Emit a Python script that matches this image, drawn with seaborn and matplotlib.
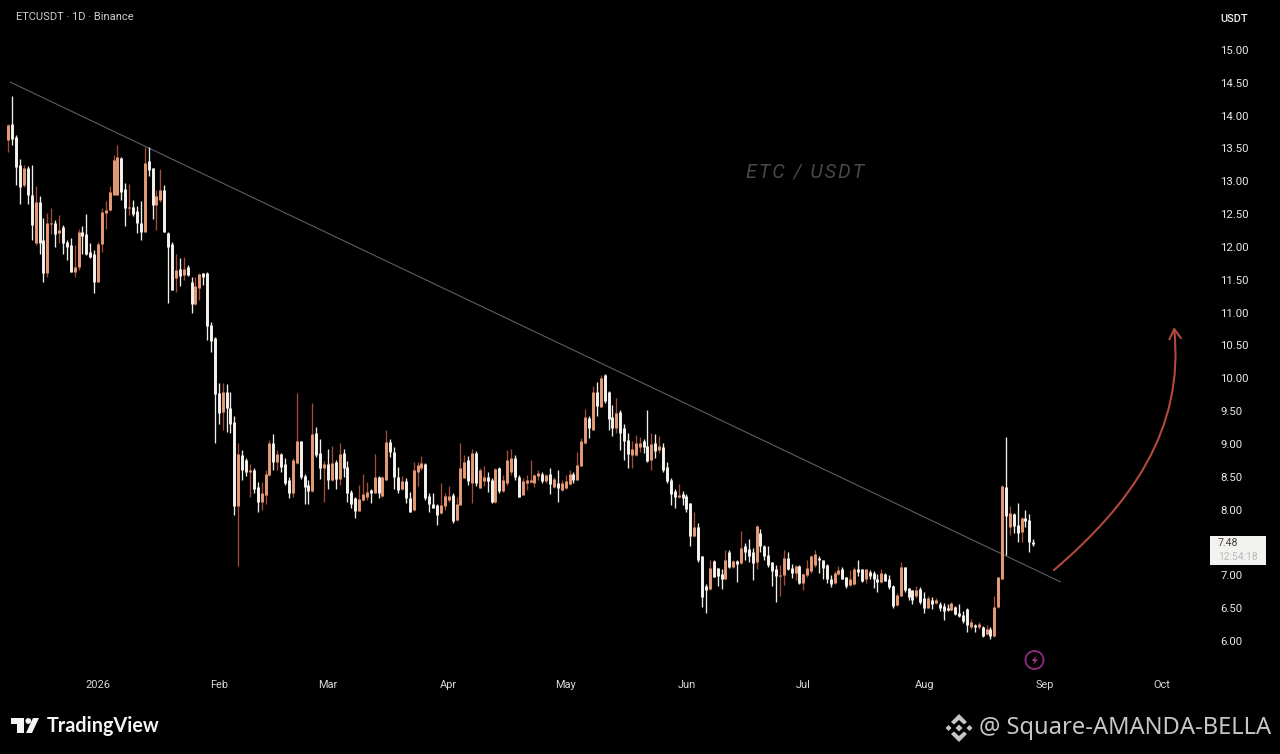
import matplotlib
matplotlib.use("Agg")
import matplotlib.pyplot as plt
import matplotlib.dates as mdates
from matplotlib.patches import Polygon, Ellipse, FancyArrowPatch, Rectangle
from matplotlib.path import Path
import numpy as np
import pandas as pd
import seaborn as sns

first_day = "2025-12-09"
opens = [13.63,13.88,13.68,13.25,12.94,13.20,12.79,12.06,12.69,12.10,
11.61,12.35,12.36,12.21,12.31,12.07,12.03,11.62,11.70,12.23,
12.2,11.93,11.9,11.47,12.05,12.52,12.56,12.79,12.79,13.36,
12.89,12.6,12.61,12.55,12.37,12.23,13.31,13.2,12.64,12.72,
12.87,12.22,12.04,11.53,11.66,11.57,11.7,11.47,11.13,11.37,
11.6,11.6,10.81,10.61,9.77,9.49,9.79,9.55,9.34,8.05,
8.83,8.76,8.57,8.61,8.34,8.12,8.22,8.53,9.01,8.73,
8.84,8.7,8.45,8.25,8.71,9.04,8.51,8.37,8.29,9.17,
8.86,8.64,8.69,8.45,8.73,8.47,8.86,8.65,8.27,8.17,
7.98,8.15,8.2,8.3,8.26,8.49,8.21,8.45,9.03,8.88,
8.5,8.32,8.43,8.17,8.0,8.58,8.63,8.7,8.21,8.09,
8.07,7.95,8.06,8.15,8.22,7.84,8.07,8.48,8.76,8.4,
8.87,8.33,8.43,8.5,8.45,8.11,8.63,8.29,8.4,8.58,
8.78,8.5,8.22,8.41,8.42,8.41,8.52,8.55,8.43,8.54,
8.35,8.41,8.3,8.33,8.39,8.55,8.45,8.67,9.01,9.39,
9.22,9.79,9.57,10.05,9.79,9.41,9.24,9.49,9.24,9.06,
8.83,8.83,8.95,9.04,8.97,8.76,9.02,8.91,8.96,8.65,
8.45,8.29,8.19,8.24,8.21,8.1,7.6,7.74,7.29,6.83,
6.79,7.22,7.11,7.02,6.95,7.36,7.13,7.22,7.19,7.45,
7.4,7.35,7.21,7.64,7.45,7.31,7.21,7.09,6.99,7.01,
7.26,7.11,7.03,7.14,6.88,7.0,7.06,7.16,7.27,7.24,
7.16,6.95,6.89,7.02,7.09,6.97,6.85,6.87,7.1,7.09,
6.95,7.05,7.03,6.95,6.9,7.02,6.95,6.84,6.55,6.69,
7.12,6.8,6.77,6.68,6.79,6.66,6.51,6.63,6.58,6.57,
6.53,6.51,6.47,6.52,6.43,6.39,6.48,6.21,6.24,6.21,
6.22,6.1,6.19,6.07,6.52,6.95,8.35,7.73,7.94,7.76,
7.66,7.88,7.84,7.5]
highs = [13.88,14.30,13.70,13.34,13.25,13.23,13.25,12.93,12.77,12.44,
12.52,12.60,12.41,12.49,12.33,12.10,12.13,12.03,12.28,12.32,
12.5,12.06,11.95,12.08,12.6,12.7,12.93,13.4,13.55,13.37,
12.97,12.96,12.71,12.62,12.70,13.52,13.52,13.2,12.87,13.18,
12.94,12.23,12.08,11.89,11.83,11.85,11.72,11.54,11.55,11.61,
11.61,11.62,10.86,10.63,9.93,9.93,9.92,9.79,9.42,9.01,
8.91,8.79,8.7,8.63,8.42,8.42,8.6,9.06,9.15,8.91,
8.86,8.78,8.5,8.78,9.78,9.05,8.54,8.45,9.63,9.26,
9.08,8.74,8.92,8.97,8.75,9.01,8.93,8.74,8.3,8.2,
8.37,8.54,8.42,8.32,8.84,8.52,8.52,9.22,9.08,8.96,
8.65,8.51,8.48,8.27,8.73,8.72,8.81,8.71,8.25,8.25,
8.09,8.41,8.25,8.36,8.26,8.2,9.01,8.83,8.81,8.93,
8.9,8.63,8.66,8.58,8.48,8.63,8.65,8.53,8.91,8.93,
8.83,8.53,8.48,8.53,8.76,8.55,8.6,8.58,8.54,8.64,
8.49,8.6,8.45,8.53,8.6,8.58,8.88,9.09,9.53,9.42,
9.88,9.95,10.05,10.07,9.8,9.59,9.7,9.52,9.31,9.17,
9.04,9.14,9.1,9.07,9.51,9.17,9.15,9.12,9.01,8.73,
8.48,8.31,8.39,8.29,8.24,8.1,7.96,7.79,7.3,6.87,
7.23,7.23,7.11,7.09,7.39,7.38,7.23,7.23,7.68,7.49,
7.55,7.41,7.77,7.7,7.46,7.44,7.21,7.16,7.16,7.39,
7.35,7.18,7.16,7.16,7.03,7.24,7.31,7.38,7.29,7.24,
7.18,7.0,7.06,7.14,7.13,6.98,7.08,7.12,7.23,7.1,
7.1,7.08,7.06,7.02,7.09,7.03,7.0,6.85,6.73,7.21,
7.13,6.8,6.78,6.84,6.82,6.74,6.69,6.67,6.65,6.6,
6.58,6.56,6.6,6.53,6.56,6.45,6.5,6.33,6.26,6.29,
6.23,6.24,6.21,6.69,6.98,8.37,9.11,8.05,7.95,8.1,
7.89,7.99,7.93,7.56]
lows = [13.45,13.55,12.94,12.66,12.92,12.66,12.11,12.03,11.90,11.46,
11.55,12.2,12.0,12.06,11.89,11.8,11.62,11.55,11.65,11.9,
11.88,11.83,11.3,11.46,11.93,12.27,12.55,12.79,12.79,12.71,
12.32,12.49,12.47,12.21,12.10,12.23,13.08,12.42,12.26,12.69,
12.23,11.14,11.34,11.32,11.4,11.49,11.56,11.0,11.12,11.2,
11.42,10.58,10.4,9.02,9.3,9.21,9.18,9.16,7.92,7.14,
8.45,8.52,8.2,8.26,7.97,7.99,8.09,8.51,8.6,8.6,
8.58,8.37,8.17,8.2,8.7,8.46,8.08,8.08,8.27,8.8,
8.47,8.12,8.31,8.44,8.32,8.37,8.5,8.12,8.02,7.87,
7.98,8.13,8.15,8.1,8.25,8.17,8.2,8.45,8.8,8.32,
8.25,8.3,8.1,7.96,7.98,8.36,8.6,8.15,7.97,8.02,
7.77,7.93,8.0,8.12,7.8,7.82,8.07,8.48,8.38,8.1,
8.36,8.33,8.36,8.27,8.1,8.1,8.26,8.27,8.38,8.53,
8.45,8.19,8.22,8.3,8.4,8.35,8.45,8.4,8.41,8.24,
8.33,8.12,8.28,8.31,8.38,8.41,8.45,8.66,9.0,9.09,
9.22,9.43,9.56,9.63,9.22,9.12,9.16,8.91,8.76,8.63,
8.63,8.81,8.88,8.86,8.72,8.6,8.78,8.86,8.58,8.4,
8.07,8.02,8.18,8.07,7.96,7.45,7.59,7.21,6.52,6.42,
6.78,6.97,6.84,6.79,6.94,7.11,7.11,6.9,7.17,7.23,
7.21,6.93,7.09,7.36,7.23,7.13,6.84,6.6,6.69,6.85,
7.08,6.96,6.93,6.87,6.78,6.98,7.03,7.13,7.03,6.95,
6.89,6.82,6.87,7.0,6.94,6.8,6.83,6.85,6.99,6.9,
6.88,6.95,6.8,6.74,6.89,6.92,6.79,6.51,6.53,6.69,
6.75,6.63,6.57,6.66,6.57,6.42,6.5,6.48,6.57,6.45,
6.32,6.45,6.46,6.4,6.37,6.28,6.14,6.19,6.13,6.19,
6.06,6.09,6.03,6.06,6.51,6.94,7.31,7.61,7.64,7.51,
7.5,7.74,7.36,7.44]
closes = [13.86,13.65,13.22,12.92,13.20,12.79,12.33,12.69,12.06,11.61,
12.36,12.37,12.2,12.26,12.06,12.0,11.62,11.7,12.23,12.17,
11.9,11.85,11.46,12.04,12.54,12.57,12.83,13.32,13.37,12.84,
12.6,12.61,12.5,12.36,12.23,13.28,13.17,12.64,12.77,12.87,
12.23,12.0,11.34,11.65,11.56,11.66,11.57,11.13,11.4,11.59,
11.55,10.79,10.57,9.76,9.47,9.79,9.55,9.31,8.05,8.84,
8.6,8.58,8.6,8.32,8.12,8.25,8.54,9.01,8.73,8.84,
8.65,8.4,8.25,8.75,9.05,8.5,8.35,8.29,9.15,8.83,
8.63,8.69,8.45,8.71,8.47,8.84,8.63,8.25,8.09,7.98,
8.16,8.24,8.27,8.25,8.49,8.25,8.49,9.03,8.88,8.5,
8.3,8.43,8.17,7.97,8.6,8.68,8.71,8.17,8.09,8.03,
7.92,8.07,8.21,8.21,7.82,8.09,8.63,8.73,8.43,8.87,
8.4,8.6,8.5,8.43,8.11,8.62,8.28,8.45,8.76,8.78,
8.5,8.2,8.43,8.45,8.45,8.53,8.56,8.43,8.53,8.39,
8.46,8.33,8.41,8.44,8.54,8.45,8.68,9.04,9.41,9.24,
9.79,9.58,10.0,9.65,9.38,9.24,9.47,9.17,9.04,8.85,
8.93,9.01,9.01,8.95,8.74,9.0,8.9,8.97,8.6,8.43,
8.24,8.2,8.22,8.17,8.01,7.6,7.73,7.23,6.67,6.78,
7.11,6.98,6.99,6.94,7.23,7.13,7.22,7.17,7.41,7.35,
7.29,7.19,7.75,7.44,7.29,7.16,7.06,6.99,7.01,7.26,
7.09,7.03,7.14,6.88,7.02,7.11,7.29,7.33,7.24,7.11,
6.95,6.87,7.04,7.08,6.95,6.83,6.94,7.1,7.05,6.92,
7.09,6.99,6.94,6.9,7.03,6.92,6.82,6.53,6.7,7.12,
6.78,6.67,6.63,6.77,6.6,6.5,6.65,6.57,6.63,6.5,
6.45,6.47,6.58,6.41,6.38,6.31,6.24,6.29,6.21,6.26,
6.08,6.19,6.07,6.52,6.97,8.36,7.9,7.95,7.75,7.65,
7.88,7.82,7.5,7.48]

trend_dates = ["2025-12-09 12:00", "2026-09-05 00:00"]
trend_prices = [14.51, 6.90]
month_ticks = ["2026-01-01","2026-02-01","2026-03-01","2026-04-01","2026-05-01",
               "2026-06-01","2026-07-01","2026-08-01","2026-09-01","2026-10-01"]
month_labels = ["2026","Feb","Mar","Apr","May","Jun","Jul","Aug","Sep","Oct"]
price_ticks = [6.0,6.5,7.0,8.0,8.5,9.0,9.5,10.0,10.5,11.0,11.5,12.0,12.5,13.0,13.5,14.0,14.5,15.0]
arrow_days = [245.3, 264.8, 278.9, 276.1]
arrow_prices = [7.08, 8.07, 9.21, 10.78]

UP_BODY, UP_WICK = "#e79c75", "#a04e38"
DOWN_BODY, DOWN_WICK = "#f6f3ef", "#f0eeea"

sns.set_theme(style="dark", rc={"axes.facecolor": "black", "figure.facecolor": "black",
                                "axes.grid": False})
plt.rcParams["font.family"] = ["Roboto", "DejaVu Sans"]

fig = plt.figure(figsize=(12.8, 7.54), dpi=100)
ax = fig.add_axes([0, 0, 1, 1])

dates = pd.date_range(first_day, periods=len(opens), freq="D")
candles = pd.DataFrame({"date": dates, "open": opens, "high": highs, "low": lows, "close": closes})
candles["candle"] = np.arange(len(candles))
candles["direction"] = np.where(candles["close"] >= candles["open"], "up", "down")

wicks = candles.melt(id_vars=["date", "candle", "direction"], value_vars=["low", "high"], value_name="price")
bodies = candles.melt(id_vars=["date", "candle", "direction"], value_vars=["open", "close"], value_name="price")

sns.lineplot(data=pd.DataFrame({"date": pd.to_datetime(trend_dates), "price": trend_prices}),
             x="date", y="price", color="#5c5d68", linewidth=0.8, ax=ax, legend=False)
sns.lineplot(data=wicks, x="date", y="price", units="candle", estimator=None, hue="direction",
             palette={"up": UP_WICK, "down": DOWN_WICK}, linewidth=0.95, sort=False, ax=ax,
             legend=False, solid_capstyle="butt")
sns.lineplot(data=bodies, x="date", y="price", units="candle", estimator=None, hue="direction",
             palette={"up": UP_BODY, "down": DOWN_BODY}, linewidth=2.1, sort=False, ax=ax,
             legend=False, solid_capstyle="butt")

base = mdates.date2num(pd.Timestamp("2026-01-01"))
ax.set_xlim(base - 98 / 3.897, base + (1280 - 98) / 3.897)
ax.set_ylim(6 - 113 / 65.67, 6 + 641 / 65.67)

ax.set_xticks(pd.to_datetime(month_ticks))
ax.set_xticklabels(month_labels)
ax.set_yticks(price_ticks)
ax.set_yticklabels([f"{p:.2f}" for p in price_ticks])
ax.yaxis.tick_right()
ax.tick_params(axis="x", length=0, pad=-53.5, labelsize=7.9, colors="#d8d8d8")
ax.tick_params(axis="y", length=0, pad=-43, labelsize=8.2, colors="#e8e8e8")
ax.set_xlabel("")
ax.set_ylabel("")
for s in ax.spines.values():
    s.set_visible(False)


def px(x, y):
    return (x / 1280, 1 - y / 754)


def poly(points, color):
    fig.add_artist(Polygon([px(*p) for p in points], closed=True, facecolor=color,
                           edgecolor="none", transform=fig.transFigure))


def disc(x, y, r, face, edge="none", lw=0):
    fig.add_artist(Ellipse(px(x, y), 2 * r / 1280, 2 * r / 754, facecolor=face, edgecolor=edge,
                           linewidth=lw, transform=fig.transFigure))


# trend arrow
arrow_path = Path([(base + d, p) for d, p in zip(arrow_days, arrow_prices)],
                  [Path.MOVETO, Path.CURVE4, Path.CURVE4, Path.CURVE4])
ax.add_patch(FancyArrowPatch(path=arrow_path, arrowstyle="->,head_length=7,head_width=4.2",
                             color="#b3493d", linewidth=1.5, mutation_scale=1))

# texts
fig.text(*px(16, 16.5), "ETCUSDT · 1D · Binance", color="#cfcfcf", fontsize=8.0, va="center", ha="left")
fig.text(*px(1220, 18.5), "USDT", color="#f0f0f0", fontsize=7.9, va="center", ha="left", fontweight="medium")
hair = "\u200a"
fig.text(*px(805, 172), hair.join("ETC / USDT"), color="#47474d", fontsize=14.2, style="italic",
         va="center", ha="center")

# price tag
fig.add_artist(Rectangle(px(1210, 565), 56 / 1280, 29 / 754, facecolor="#f2f2f0", edgecolor="none",
                         transform=fig.transFigure))
fig.text(*px(1218, 542.5), "7.48", color="#4a4038", fontsize=7.6, va="center", ha="left")
fig.text(*px(1218, 557), "12:54:18", color="#b9b9b9", fontsize=7.4, va="center", ha="left")

# lightning badge
disc(1034.5, 660, 9, "none", "#8b2a78", 1.4)
poly([(1036.5, 655.5), (1031.5, 661), (1034.5, 661), (1033, 665), (1038, 659.5), (1035, 659.5)], "#a8327f")

# TradingView logo
LOGO = "#f4f4f4"
poly([(11, 718), (24, 718), (24, 733), (17, 733), (17, 724), (11, 724)], LOGO)
poly([(39, 718), (33, 718), (26, 733), (32, 733)], LOGO)
disc(28.3, 721, 2.9, LOGO)
fig.text(*px(47, 726), "TradingView", color=LOGO, fontsize=14.2, fontweight="bold",
         family=["Lato", "DejaVu Sans"], va="center", ha="left")

# Binance logo and credit
GRAY = "#c6c6c6"
cx, cy = 959, 728
poly([(cx, cy - 3.5), (cx + 3.5, cy), (cx, cy + 3.5), (cx - 3.5, cy)], GRAY)
poly([(cx - 13.5, cy), (cx - 10.5, cy - 3), (cx - 7.5, cy), (cx - 10.5, cy + 3)], GRAY)
poly([(cx + 13.5, cy), (cx + 10.5, cy - 3), (cx + 7.5, cy), (cx + 10.5, cy + 3)], GRAY)
poly([(cx, cy - 14), (cx + 8, cy - 6), (cx + 5, cy - 3.5), (cx, cy - 8), (cx - 5, cy - 3.5), (cx - 8, cy - 6)], GRAY)
poly([(cx, cy + 14), (cx + 8, cy + 6), (cx + 5, cy + 3.5), (cx, cy + 8), (cx - 5, cy + 3.5), (cx - 8, cy + 6)], GRAY)
fig.text(*px(979, 727.5), "@ Square-AMANDA-BELLA", color=GRAY, fontsize=17.1,
         family=["Noto Sans", "DejaVu Sans"], va="center", ha="left")

fig.savefig("out.png", dpi=100, facecolor="black")
